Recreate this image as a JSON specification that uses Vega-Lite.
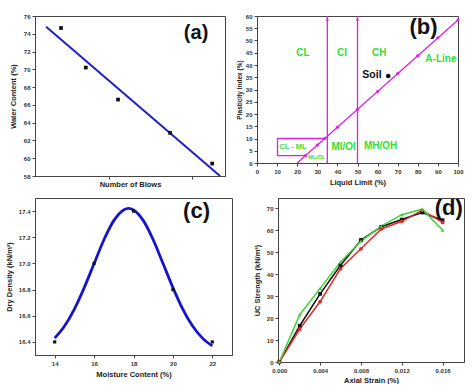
{
  "$schema": "https://vega.github.io/schema/vega-lite/v6.json",
  "padding": {"left": 4, "top": 12, "right": 0, "bottom": 0},
  "background": "white",
  "spacing": 7,
  "datasets": {
    "a_pts": [
      {"blows": 8.3, "wc": 74.65},
      {"blows": 14.3, "wc": 70.2},
      {"blows": 22.1, "wc": 66.6},
      {"blows": 34.7, "wc": 62.85},
      {"blows": 44.9, "wc": 59.4}
    ],
    "a_fit": [
      {"blows": 4.7, "wc": 74.8},
      {"blows": 46.8, "wc": 58.0}
    ],
    "a_lab": [{"blows": 41, "wc": 74.1, "label": "(a)"}],
    "b_vlines": [
      {"ll": 35, "pi": 0, "id": "35"},
      {"ll": 35, "pi": 60, "id": "35"},
      {"ll": 50, "pi": 0, "id": "50"},
      {"ll": 50, "pi": 60, "id": "50"}
    ],
    "b_arrows": [{"ll": 35, "pi": 58.8}, {"ll": 50, "pi": 58.8}],
    "b_aline": [{"ll": 20, "pi": 0}, {"ll": 100, "pi": 58.4}],
    "b_amarks": [
      {"ll": 24.1, "pi": 3}, {"ll": 30, "pi": 7.3}, {"ll": 33.7, "pi": 10},
      {"ll": 40, "pi": 14.6}, {"ll": 50, "pi": 21.9}, {"ll": 60, "pi": 29.2},
      {"ll": 70, "pi": 36.5}, {"ll": 80, "pi": 43.8}, {"ll": 90, "pi": 51.1},
      {"ll": 100, "pi": 58.4}
    ],
    "b_box": [
      {"ll": 33.7, "pi": 10, "o": 1},
      {"ll": 10.2, "pi": 10, "o": 2},
      {"ll": 10.2, "pi": 3, "o": 3},
      {"ll": 24.1, "pi": 3, "o": 4}
    ],
    "b_soil": [{"ll": 65.3, "pi": 35.5}],
    "b_big": [
      {"ll": 22.8, "pi": 44.8, "label": "CL"},
      {"ll": 42.3, "pi": 44.8, "label": "CI"},
      {"ll": 60.8, "pi": 44.8, "label": "CH"},
      {"ll": 91.5, "pi": 42.4, "label": "A-Line"},
      {"ll": 43.1, "pi": 6.4, "label": "MI/OI"},
      {"ll": 61.5, "pi": 6.8, "label": "MH/OH"}
    ],
    "b_mid": [{"ll": 17.9, "pi": 6.4, "label": "CL - ML"}],
    "b_small": [{"ll": 29.8, "pi": 2.3, "label": "ML/OL"}],
    "b_soillab": [{"ll": 57.2, "pi": 35.9, "label": "Soil"}],
    "b_lab": [{"ll": 82.8, "pi": 55.4, "label": "(b)"}],
    "c_pts": [
      {"mc": 14, "dd": 16.4}, {"mc": 16, "dd": 17.0}, {"mc": 18, "dd": 17.4},
      {"mc": 20, "dd": 16.8}, {"mc": 22, "dd": 16.4}
    ],
    "c_fit": [
      {"mc": 14, "dd": 16.429}, {"mc": 14.5, "dd": 16.521}, {"mc": 15, "dd": 16.651},
      {"mc": 15.5, "dd": 16.815}, {"mc": 16, "dd": 16.999}, {"mc": 16.5, "dd": 17.181},
      {"mc": 17, "dd": 17.327}, {"mc": 17.5, "dd": 17.409}, {"mc": 17.75, "dd": 17.42},
      {"mc": 18, "dd": 17.409}, {"mc": 18.5, "dd": 17.327}, {"mc": 19, "dd": 17.181},
      {"mc": 19.5, "dd": 16.999}, {"mc": 20, "dd": 16.815}, {"mc": 20.5, "dd": 16.651},
      {"mc": 21, "dd": 16.521}, {"mc": 21.5, "dd": 16.429}, {"mc": 22, "dd": 16.37}
    ],
    "c_lab": [{"mc": 21.2, "dd": 17.4, "label": "(c)"}],
    "d_data": [
      {"s": "A", "strain": 0, "uc": 0}, {"s": "A", "strain": 0.002, "uc": 16.5},
      {"s": "A", "strain": 0.004, "uc": 31}, {"s": "A", "strain": 0.006, "uc": 44},
      {"s": "A", "strain": 0.008, "uc": 55.5}, {"s": "A", "strain": 0.010, "uc": 61.5},
      {"s": "A", "strain": 0.012, "uc": 64.8}, {"s": "A", "strain": 0.014, "uc": 68},
      {"s": "A", "strain": 0.016, "uc": 64.5},
      {"s": "B", "strain": 0, "uc": 0}, {"s": "B", "strain": 0.002, "uc": 15},
      {"s": "B", "strain": 0.004, "uc": 27.5}, {"s": "B", "strain": 0.006, "uc": 42.5},
      {"s": "B", "strain": 0.008, "uc": 51.5}, {"s": "B", "strain": 0.010, "uc": 60.5},
      {"s": "B", "strain": 0.012, "uc": 64}, {"s": "B", "strain": 0.014, "uc": 69},
      {"s": "B", "strain": 0.016, "uc": 63.5},
      {"s": "C", "strain": 0, "uc": 0}, {"s": "C", "strain": 0.002, "uc": 21.5},
      {"s": "C", "strain": 0.004, "uc": 33.5}, {"s": "C", "strain": 0.006, "uc": 45.5},
      {"s": "C", "strain": 0.008, "uc": 55}, {"s": "C", "strain": 0.010, "uc": 61.8},
      {"s": "C", "strain": 0.012, "uc": 67}, {"s": "C", "strain": 0.014, "uc": 69.5},
      {"s": "C", "strain": 0.016, "uc": 60}
    ],
    "d_lab": [{"strain": 0.0166, "uc": 70.1, "label": "(d)"}]
  },
  "vconcat": [
    {
      "spacing": 9,
      "hconcat": [
        {
          "width": 190,
          "height": 160,
          "layer": [
            {
              "data": {"name": "a_fit"},
              "mark": {"type": "line", "color": "#1f1fc8", "strokeWidth": 2},
              "encoding": {
                "x": {"field": "blows", "type": "quantitative", "scale": {"domain": [2, 48], "nice": false, "zero": false},
                  "axis": {"values": [20, 40], "labels": false, "title": "Number of Blows", "titlePadding": 1}},
                "y": {"field": "wc", "type": "quantitative", "scale": {"domain": [58, 76], "nice": false, "zero": false},
                  "axis": {"tickCount": 9, "title": "Water Content (%)", "titlePadding": 6}}
              }
            },
            {
              "data": {"name": "a_pts"},
              "mark": {"type": "point", "shape": "square", "filled": true, "color": "#111", "size": 14, "opacity": 1},
              "encoding": {
                "x": {"field": "blows", "type": "quantitative"},
                "y": {"field": "wc", "type": "quantitative"}
              }
            },
            {
              "data": {"name": "a_lab"},
              "mark": {"type": "text", "fontSize": 20, "fontWeight": "bold", "font": "Liberation Sans", "color": "#111", "align": "center", "baseline": "middle"},
              "encoding": {
                "x": {"field": "blows", "type": "quantitative"},
                "y": {"field": "wc", "type": "quantitative"},
                "text": {"field": "label"}
              }
            }
          ]
        },
        {
          "width": 201,
          "height": 147,
          "layer": [
            {
              "data": {"name": "b_vlines"},
              "mark": {"type": "line", "color": "#dd22dd", "strokeWidth": 1.3},
              "encoding": {
                "x": {"field": "ll", "type": "quantitative", "scale": {"domain": [0, 100], "nice": false},
                  "axis": {"tickCount": 10, "title": "Liquid Limit (%)", "titlePadding": 4}},
                "y": {"field": "pi", "type": "quantitative", "scale": {"domain": [0, 60], "nice": false},
                  "axis": {"tickCount": 12, "title": "Plasticity Index (%)", "titlePadding": 3, "titleFontSize": 6.5}},
                "detail": {"field": "id"}
              }
            },
            {
              "data": {"name": "b_arrows"},
              "mark": {"type": "point", "shape": "triangle-up", "filled": true, "color": "#dd22dd", "size": 12, "opacity": 1},
              "encoding": {
                "x": {"field": "ll", "type": "quantitative"},
                "y": {"field": "pi", "type": "quantitative"}
              }
            },
            {
              "data": {"name": "b_aline"},
              "mark": {"type": "line", "color": "#dd22dd", "strokeWidth": 1.3},
              "encoding": {
                "x": {"field": "ll", "type": "quantitative"},
                "y": {"field": "pi", "type": "quantitative"}
              }
            },
            {
              "data": {"name": "b_amarks"},
              "mark": {"type": "point", "shape": "circle", "filled": true, "color": "#dd22dd", "size": 10, "opacity": 1},
              "encoding": {
                "x": {"field": "ll", "type": "quantitative"},
                "y": {"field": "pi", "type": "quantitative"}
              }
            },
            {
              "data": {"name": "b_box"},
              "mark": {"type": "line", "color": "#dd22dd", "strokeWidth": 1.3},
              "encoding": {
                "x": {"field": "ll", "type": "quantitative"},
                "y": {"field": "pi", "type": "quantitative"},
                "order": {"field": "o"}
              }
            },
            {
              "data": {"name": "b_soil"},
              "mark": {"type": "point", "shape": "circle", "filled": true, "color": "#111", "size": 22, "opacity": 1},
              "encoding": {
                "x": {"field": "ll", "type": "quantitative"},
                "y": {"field": "pi", "type": "quantitative"}
              }
            },
            {
              "data": {"name": "b_big"},
              "mark": {"type": "text", "fontSize": 10, "fontWeight": "bold", "font": "Liberation Sans", "color": "#33dd33", "align": "center", "baseline": "middle"},
              "encoding": {
                "x": {"field": "ll", "type": "quantitative"},
                "y": {"field": "pi", "type": "quantitative"},
                "text": {"field": "label"}
              }
            },
            {
              "data": {"name": "b_mid"},
              "mark": {"type": "text", "fontSize": 7.5, "fontWeight": "bold", "font": "Liberation Sans", "color": "#33dd33", "align": "center", "baseline": "middle"},
              "encoding": {
                "x": {"field": "ll", "type": "quantitative"},
                "y": {"field": "pi", "type": "quantitative"},
                "text": {"field": "label"}
              }
            },
            {
              "data": {"name": "b_small"},
              "mark": {"type": "text", "fontSize": 5.5, "fontWeight": "bold", "font": "Liberation Sans", "color": "#33dd33", "align": "center", "baseline": "middle"},
              "encoding": {
                "x": {"field": "ll", "type": "quantitative"},
                "y": {"field": "pi", "type": "quantitative"},
                "text": {"field": "label"}
              }
            },
            {
              "data": {"name": "b_soillab"},
              "mark": {"type": "text", "fontSize": 10.5, "fontWeight": "bold", "font": "Liberation Sans", "color": "#111", "align": "center", "baseline": "middle"},
              "encoding": {
                "x": {"field": "ll", "type": "quantitative"},
                "y": {"field": "pi", "type": "quantitative"},
                "text": {"field": "label"}
              }
            },
            {
              "data": {"name": "b_lab"},
              "mark": {"type": "text", "fontSize": 22, "fontWeight": "bold", "font": "Liberation Sans", "color": "#111", "align": "center", "baseline": "middle"},
              "encoding": {
                "x": {"field": "ll", "type": "quantitative"},
                "y": {"field": "pi", "type": "quantitative"},
                "text": {"field": "label"}
              }
            }
          ]
        }
      ]
    },
    {
      "spacing": 19,
      "hconcat": [
        {
          "width": 197,
          "height": 157,
          "layer": [
            {
              "data": {"name": "c_fit"},
              "mark": {"type": "line", "color": "#1414cc", "strokeWidth": 2.8, "interpolate": "monotone"},
              "encoding": {
                "x": {"field": "mc", "type": "quantitative", "scale": {"domain": [13, 23], "nice": false, "zero": false},
                  "axis": {"tickCount": 5, "title": "Moisture Content (%)", "titlePadding": 4}},
                "y": {"field": "dd", "type": "quantitative", "scale": {"domain": [16.3, 17.5], "nice": false, "zero": false},
                  "axis": {"tickCount": 6, "format": ".1f", "title": "Dry Density (kN/m³)", "titlePadding": 5}}
              }
            },
            {
              "data": {"name": "c_pts"},
              "mark": {"type": "point", "shape": "square", "filled": true, "color": "#111", "size": 10, "opacity": 1},
              "encoding": {
                "x": {"field": "mc", "type": "quantitative"},
                "y": {"field": "dd", "type": "quantitative"}
              }
            },
            {
              "data": {"name": "c_lab"},
              "mark": {"type": "text", "fontSize": 22, "fontWeight": "bold", "font": "Liberation Sans", "color": "#111", "align": "center", "baseline": "middle"},
              "encoding": {
                "x": {"field": "mc", "type": "quantitative"},
                "y": {"field": "dd", "type": "quantitative"},
                "text": {"field": "label"}
              }
            }
          ]
        },
        {
          "width": 186,
          "height": 164,
          "layer": [
            {
              "data": {"name": "d_data"},
              "mark": {"type": "line", "strokeWidth": 1.5},
              "encoding": {
                "x": {"field": "strain", "type": "quantitative", "scale": {"domain": [-0.00013, 0.0181], "nice": false, "zero": false},
                  "axis": {"values": [0, 0.004, 0.008, 0.012, 0.016], "format": ".3f", "title": "Axial Strain (%)", "titlePadding": 3}},
                "y": {"field": "uc", "type": "quantitative", "scale": {"domain": [0, 74.6], "nice": false},
                  "axis": {"tickCount": 7, "title": "UC Strength (kN/m³)", "titlePadding": 5}},
                "color": {"field": "s", "type": "nominal", "scale": {"domain": ["A", "B", "C"], "range": ["#111111", "#e3262b", "#3ad53a"]}, "legend": null}
              }
            },
            {
              "data": {"name": "d_data"},
              "mark": {"type": "point", "filled": true, "size": 14, "opacity": 1},
              "encoding": {
                "x": {"field": "strain", "type": "quantitative"},
                "y": {"field": "uc", "type": "quantitative"},
                "color": {"field": "s", "type": "nominal", "scale": {"domain": ["A", "B", "C"], "range": ["#111111", "#e3262b", "#3ad53a"]}, "legend": null},
                "shape": {"field": "s", "type": "nominal", "scale": {"domain": ["A", "B", "C"], "range": ["square", "circle", "triangle-up"]}, "legend": null}
              }
            },
            {
              "data": {"name": "d_lab"},
              "mark": {"type": "text", "fontSize": 22, "fontWeight": "bold", "font": "Liberation Sans", "color": "#111", "align": "center", "baseline": "middle"},
              "encoding": {
                "x": {"field": "strain", "type": "quantitative"},
                "y": {"field": "uc", "type": "quantitative"},
                "text": {"field": "label"}
              }
            }
          ]
        }
      ]
    }
  ],
  "config": {
    "font": "Liberation Sans",
    "view": {"stroke": "#444", "strokeWidth": 1},
    "axis": {
      "grid": false,
      "labelFont": "Liberation Sans",
      "labelFontSize": 6,
      "labelFontWeight": "bold",
      "labelColor": "#333",
      "labelOverlap": false,
      "labelFlush": false,
      "titleFont": "Liberation Sans",
      "titleFontSize": 7.5,
      "titleFontWeight": "bold",
      "titleColor": "#222",
      "domainColor": "#444",
      "tickColor": "#444",
      "tickSize": 3,
      "labelPadding": 2
    }
  }
}
